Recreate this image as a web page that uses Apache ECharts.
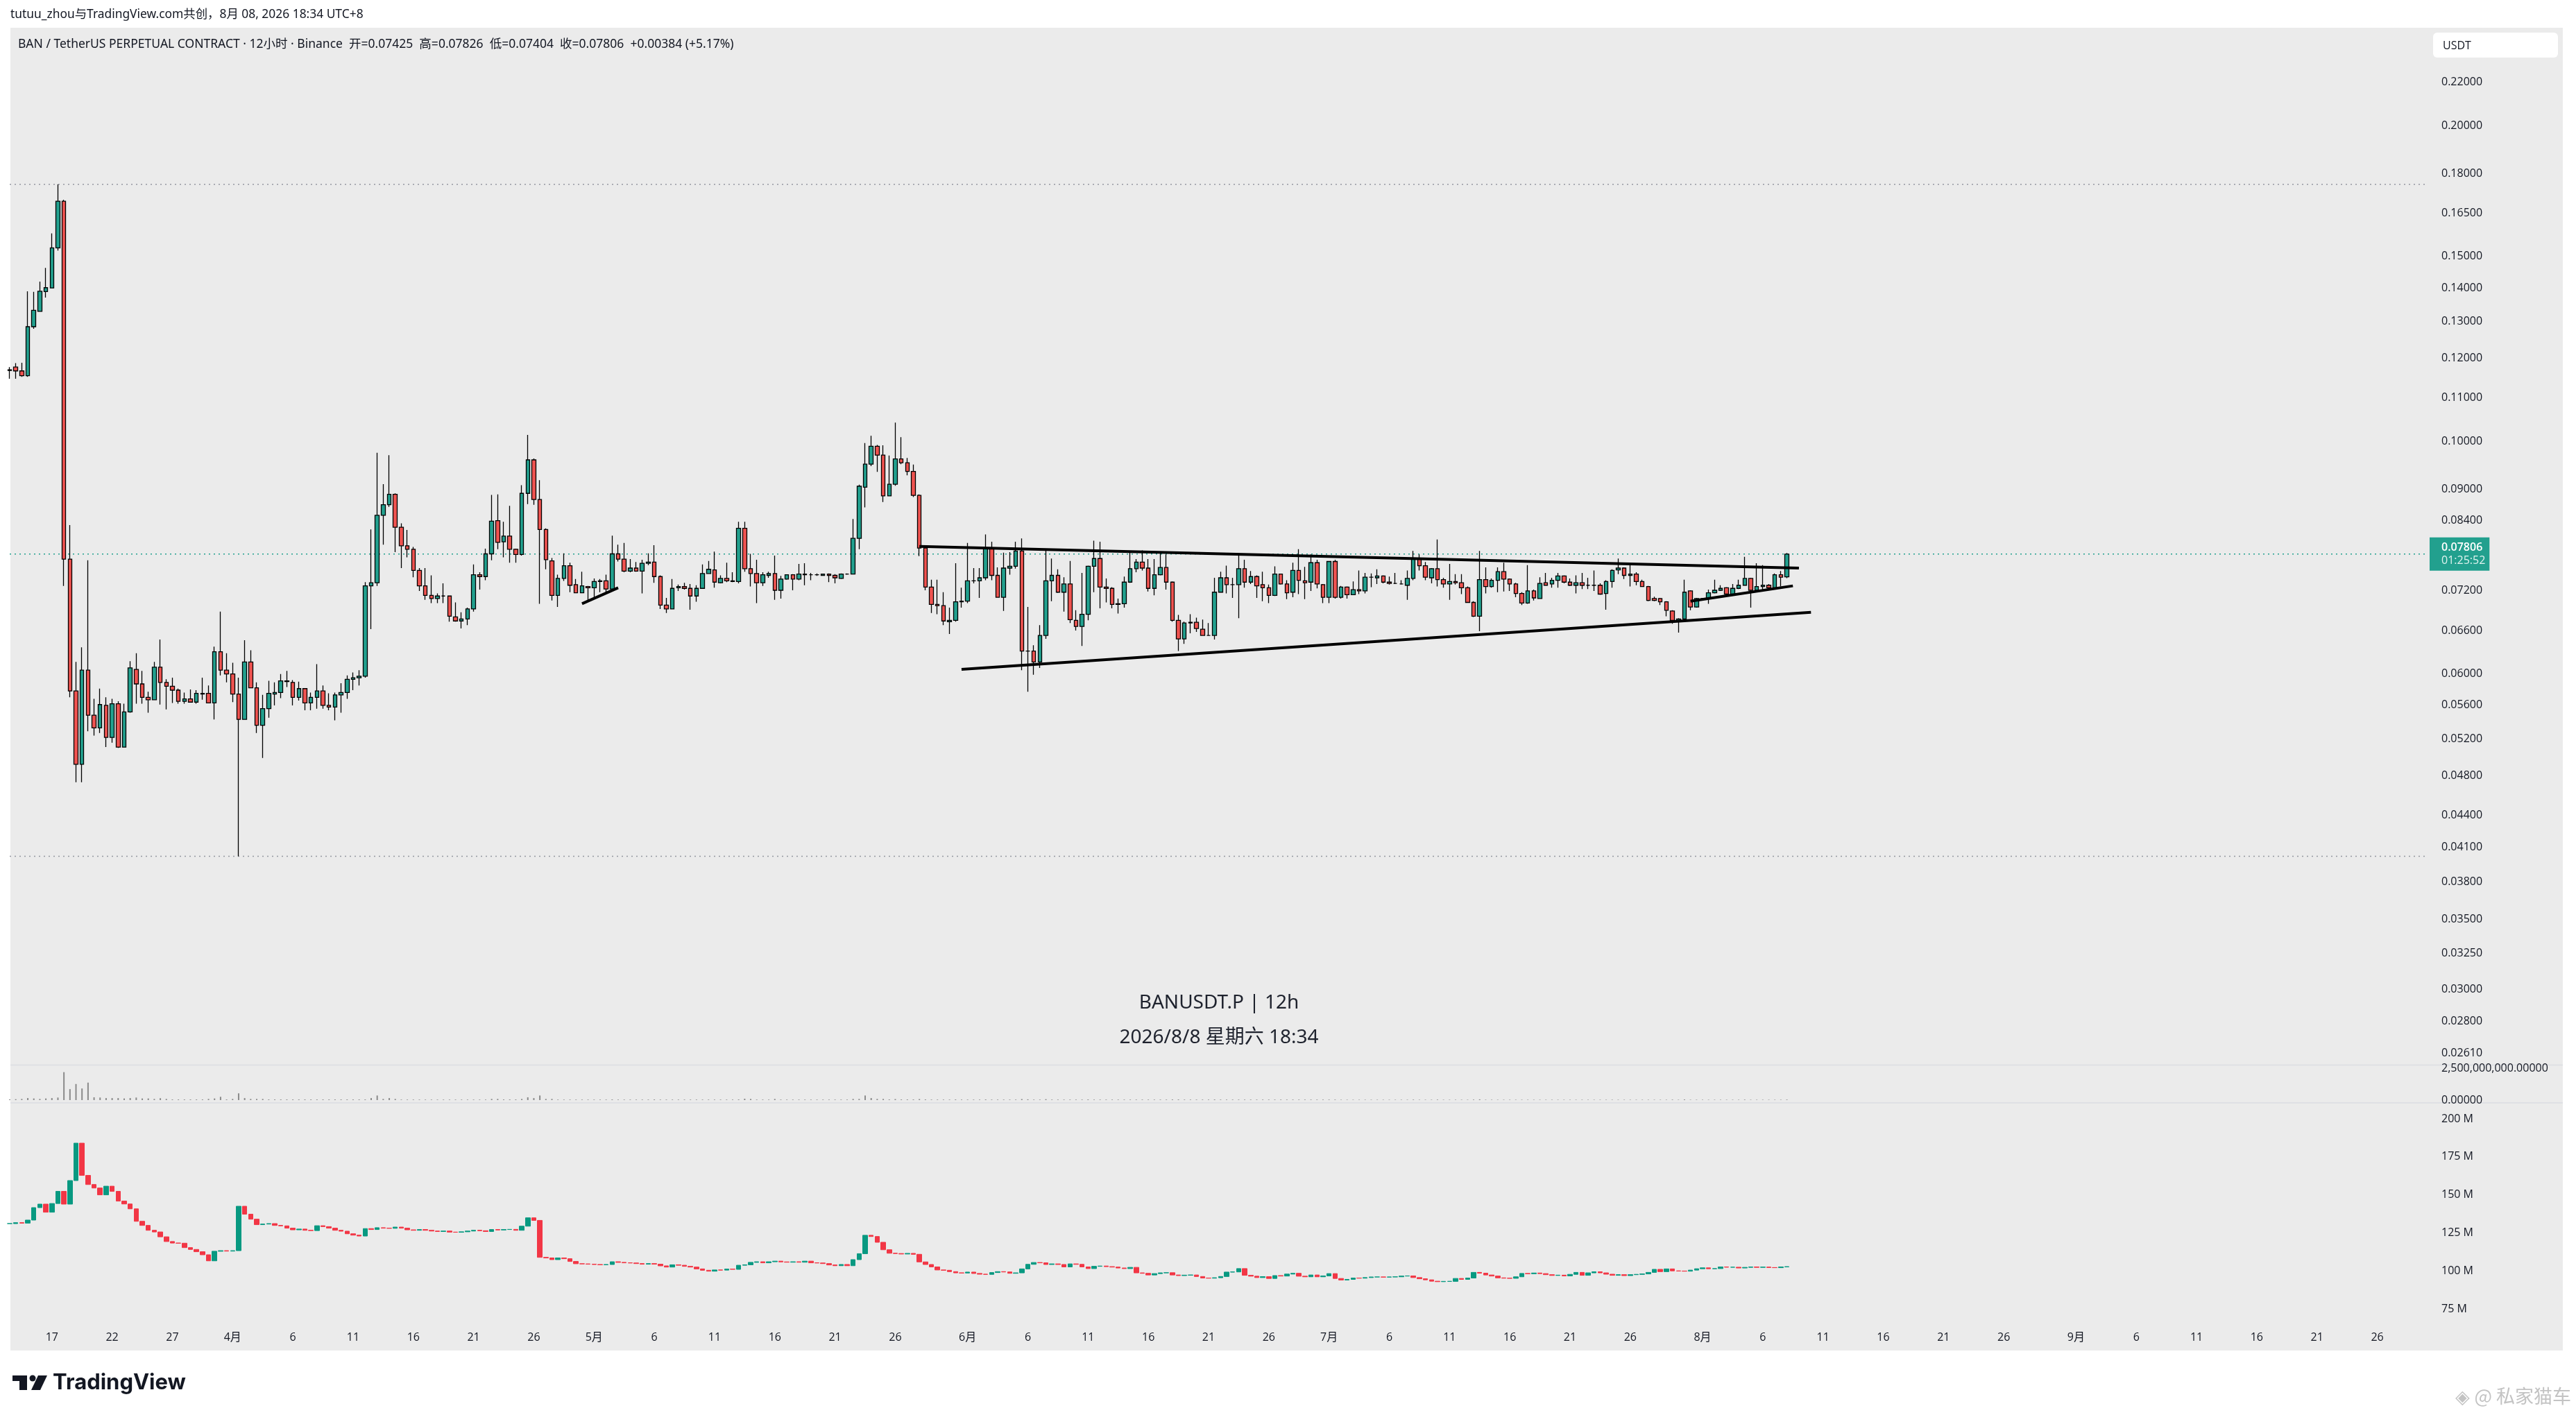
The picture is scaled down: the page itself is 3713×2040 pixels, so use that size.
<!DOCTYPE html>
<html><head><meta charset="utf-8">
<script src="https://cdn.jsdelivr.net/npm/echarts@6/dist/echarts.min.js"></script>
<style>html,body{margin:0;padding:0;background:#fff;}#c{width:3713px;height:2040px;}</style>
</head><body><div id="c"></div><script>
// ---------- DATA ----------
// 12h candles starting 2026-03-13 20:00 (UTC+8), rows: [open, high, low, close]
const priceOHLC = [
[0.1168,0.1177,0.1147,0.1170],[0.1177,0.1187,0.1147,0.1167],[0.1167,0.1188,0.1152,0.1155],[0.1155,0.1390,0.1152,0.1286],[0.1286,0.1388,0.1280,0.1333],
[0.1330,0.1420,0.1330,0.1390],[0.1389,0.1463,0.1371,0.1401],[0.1400,0.1578,0.1400,0.1529],[0.1529,0.1758,0.1520,0.1694],[0.1694,0.1699,0.0728,0.0772],
[0.0772,0.0832,0.0570,0.0578],[0.0578,0.0616,0.0473,0.0492],[0.0492,0.0636,0.0473,0.0605],[0.0605,0.0770,0.0529,0.0548],[0.0548,0.0568,0.0524,0.0533],
[0.0533,0.0581,0.0527,0.0561],[0.0560,0.0570,0.0511,0.0522],[0.0522,0.0568,0.0516,0.0562],[0.0562,0.0565,0.0510,0.0511],[0.0511,0.0562,0.0511,0.0552],
[0.0552,0.0617,0.0551,0.0608],[0.0606,0.0628,0.0562,0.0587],[0.0587,0.0604,0.0562,0.0570],[0.0570,0.0577,0.0551,0.0567],[0.0567,0.0616,0.0567,0.0609],
[0.0609,0.0647,0.0561,0.0589],[0.0589,0.0593,0.0555,0.0584],[0.0584,0.0595,0.0563,0.0579],[0.0579,0.0581,0.0562,0.0565],[0.0565,0.0576,0.0562,0.0568],
[0.0568,0.0580,0.0564,0.0564],[0.0564,0.0579,0.0562,0.0575],[0.0575,0.0595,0.0567,0.0574],[0.0575,0.0585,0.0563,0.0563],[0.0563,0.0637,0.0543,0.0630],
[0.0630,0.0688,0.0598,0.0605],[0.0605,0.0628,0.0589,0.0600],[0.0600,0.0615,0.0564,0.0574],[0.0574,0.0595,0.0402,0.0543],[0.0543,0.0646,0.0543,0.0616],
[0.0616,0.0632,0.0582,0.0582],[0.0582,0.0589,0.0527,0.0536],[0.0536,0.0573,0.0499,0.0556],[0.0556,0.0591,0.0545,0.0575],[0.0574,0.0589,0.0560,0.0576],
[0.0576,0.0600,0.0569,0.0591],[0.0591,0.0604,0.0583,0.0590],[0.0589,0.0592,0.0560,0.0570],[0.0570,0.0590,0.0566,0.0581],[0.0581,0.0581,0.0554,0.0563],
[0.0563,0.0576,0.0554,0.0570],[0.0570,0.0613,0.0556,0.0578],[0.0578,0.0585,0.0556,0.0560],[0.0560,0.0575,0.0554,0.0558],[0.0558,0.0576,0.0542,0.0573],
[0.0573,0.0588,0.0551,0.0576],[0.0576,0.0598,0.0568,0.0593],[0.0593,0.0602,0.0579,0.0595],[0.0595,0.0605,0.0585,0.0597],[0.0597,0.0734,0.0595,0.0728],
[0.0728,0.0824,0.0662,0.0733],[0.0733,0.0975,0.0728,0.0850],[0.0850,0.0910,0.0797,0.0870],[0.0870,0.0970,0.0866,0.0890],[0.0890,0.0892,0.0784,0.0828],
[0.0828,0.0835,0.0757,0.0795],[0.0795,0.0823,0.0775,0.0789],[0.0789,0.0793,0.0742,0.0753],[0.0753,0.0757,0.0720,0.0728],[0.0728,0.0757,0.0706,0.0713],
[0.0713,0.0745,0.0701,0.0708],[0.0708,0.0716,0.0701,0.0712],[0.0712,0.0732,0.0701,0.0712],[0.0712,0.0712,0.0673,0.0681],[0.0680,0.0702,0.0673,0.0674],
[0.0674,0.0687,0.0663,0.0677],[0.0677,0.0694,0.0668,0.0692],[0.0692,0.0763,0.0688,0.0746],[0.0746,0.0750,0.0722,0.0743],[0.0743,0.0790,0.0737,0.0781],
[0.0781,0.0889,0.0770,0.0839],[0.0840,0.0890,0.0789,0.0801],[0.0802,0.0838,0.0775,0.0812],[0.0812,0.0868,0.0766,0.0789],[0.0789,0.0790,0.0766,0.0780],
[0.0780,0.0908,0.0778,0.0892],[0.0892,0.1014,0.0871,0.0960],[0.0960,0.0963,0.0870,0.0880],[0.0880,0.0918,0.0700,0.0824],[0.0824,0.0826,0.0755,0.0771],
[0.0769,0.0774,0.0705,0.0713],[0.0713,0.0746,0.0695,0.0740],[0.0740,0.0782,0.0736,0.0761],[0.0761,0.0766,0.0718,0.0729],[0.0730,0.0739,0.0717,0.0717],
[0.0717,0.0751,0.0717,0.0728],[0.0727,0.0728,0.0705,0.0725],[0.0725,0.0740,0.0709,0.0735],[0.0735,0.0739,0.0718,0.0736],[0.0736,0.0746,0.0718,0.0723],
[0.0723,0.0813,0.0720,0.0781],[0.0781,0.0797,0.0768,0.0772],[0.0772,0.0800,0.0750,0.0752],[0.0752,0.0772,0.0750,0.0757],[0.0757,0.0767,0.0751,0.0752],
[0.0752,0.0771,0.0716,0.0765],[0.0765,0.0782,0.0762,0.0767],[0.0767,0.0796,0.0733,0.0743],[0.0743,0.0745,0.0692,0.0698],[0.0698,0.0709,0.0686,0.0692],
[0.0692,0.0739,0.0692,0.0724],[0.0725,0.0730,0.0720,0.0727],[0.0727,0.0733,0.0722,0.0724],[0.0724,0.0731,0.0691,0.0712],[0.0712,0.0729,0.0703,0.0724],
[0.0724,0.0763,0.0724,0.0748],[0.0748,0.0769,0.0748,0.0755],[0.0754,0.0785,0.0725,0.0734],[0.0733,0.0745,0.0732,0.0740],[0.0740,0.0766,0.0734,0.0736],
[0.0736,0.0750,0.0734,0.0735],[0.0735,0.0838,0.0732,0.0826],[0.0826,0.0838,0.0751,0.0756],[0.0756,0.0781,0.0727,0.0748],[0.0748,0.0771,0.0701,0.0733],
[0.0733,0.0750,0.0728,0.0746],[0.0745,0.0751,0.0741,0.0748],[0.0748,0.0778,0.0706,0.0721],[0.0721,0.0744,0.0708,0.0739],[0.0739,0.0746,0.0738,0.0746],
[0.0746,0.0747,0.0721,0.0739],[0.0739,0.0764,0.0737,0.0747],[0.0747,0.0765,0.0729,0.0746],[0.0746,0.0749,0.0737,0.0746],[0.0746,0.0748,0.0744,0.0746],
[0.0745,0.0747,0.0744,0.0747],[0.0747,0.0748,0.0734,0.0745],[0.0745,0.0747,0.0732,0.0741],[0.0740,0.0748,0.0739,0.0747],[0.0747,0.0748,0.0746,0.0747],
[0.0747,0.0843,0.0747,0.0808],[0.0808,0.0909,0.0789,0.0906],[0.0904,0.0996,0.0865,0.0951],[0.0951,0.1012,0.0947,0.0989],[0.0989,0.0992,0.0935,0.0970],
[0.0970,0.0991,0.0875,0.0887],[0.0887,0.0969,0.0887,0.0910],[0.0910,0.1042,0.0907,0.0962],[0.0962,0.1009,0.0951,0.0954],[0.0954,0.0964,0.0928,0.0936],
[0.0936,0.0950,0.0885,0.0888],[0.0888,0.0890,0.0777,0.0791],[0.0791,0.0792,0.0721,0.0726],[0.0726,0.0738,0.0686,0.0699],[0.0699,0.0738,0.0684,0.0697],
[0.0697,0.0718,0.0668,0.0674],[0.0673,0.0694,0.0655,0.0675],[0.0675,0.0765,0.0673,0.0703],[0.0703,0.0725,0.0694,0.0704],[0.0704,0.0800,0.0701,0.0736],
[0.0736,0.0757,0.0732,0.0736],[0.0736,0.0757,0.0709,0.0741],[0.0741,0.0815,0.0737,0.0791],[0.0791,0.0802,0.0737,0.0745],[0.0745,0.0758,0.0710,0.0710],
[0.0710,0.0783,0.0689,0.0757],[0.0757,0.0784,0.0746,0.0760],[0.0760,0.0802,0.0756,0.0786],[0.0786,0.0808,0.0605,0.0631],[0.0631,0.0695,0.0577,0.0631],
[0.0631,0.0639,0.0599,0.0616],[0.0616,0.0668,0.0608,0.0653],[0.0653,0.0787,0.0648,0.0736],[0.0736,0.0773,0.0704,0.0745],[0.0745,0.0755,0.0717,0.0718],
[0.0718,0.0742,0.0688,0.0731],[0.0731,0.0769,0.0671,0.0676],[0.0675,0.0690,0.0660,0.0666],[0.0666,0.0749,0.0638,0.0684],[0.0684,0.0761,0.0675,0.0760],
[0.0760,0.0804,0.0718,0.0773],[0.0773,0.0802,0.0693,0.0726],[0.0726,0.0740,0.0702,0.0724],[0.0724,0.0726,0.0693,0.0699],[0.0699,0.0708,0.0685,0.0700],
[0.0700,0.0743,0.0694,0.0734],[0.0734,0.0783,0.0733,0.0756],[0.0756,0.0772,0.0750,0.0767],[0.0767,0.0787,0.0753,0.0757],[0.0757,0.0772,0.0719,0.0724],
[0.0724,0.0772,0.0713,0.0746],[0.0746,0.0782,0.0745,0.0758],[0.0758,0.0780,0.0722,0.0734],[0.0734,0.0735,0.0673,0.0675],[0.0675,0.0683,0.0631,0.0648],
[0.0648,0.0673,0.0641,0.0671],[0.0671,0.0684,0.0656,0.0672],[0.0672,0.0679,0.0658,0.0663],[0.0662,0.0676,0.0653,0.0653],[0.0653,0.0671,0.0653,0.0653],
[0.0653,0.0741,0.0647,0.0718],[0.0718,0.0751,0.0718,0.0741],[0.0741,0.0761,0.0716,0.0730],[0.0730,0.0741,0.0709,0.0730],[0.0730,0.0779,0.0678,0.0756],
[0.0756,0.0771,0.0725,0.0734],[0.0734,0.0752,0.0731,0.0743],[0.0743,0.0745,0.0709,0.0728],[0.0730,0.0751,0.0704,0.0725],[0.0725,0.0730,0.0701,0.0713],
[0.0713,0.0760,0.0712,0.0747],[0.0747,0.0747,0.0730,0.0731],[0.0731,0.0737,0.0707,0.0717],[0.0718,0.0766,0.0710,0.0753],[0.0753,0.0789,0.0715,0.0737],
[0.0736,0.0759,0.0707,0.0733],[0.0734,0.0780,0.0720,0.0766],[0.0766,0.0771,0.0724,0.0731],[0.0730,0.0731,0.0701,0.0710],[0.0710,0.0769,0.0701,0.0768],
[0.0768,0.0771,0.0708,0.0710],[0.0710,0.0728,0.0708,0.0726],[0.0726,0.0727,0.0708,0.0714],[0.0714,0.0735,0.0714,0.0722],[0.0722,0.0753,0.0715,0.0720],
[0.0720,0.0749,0.0716,0.0742],[0.0742,0.0748,0.0726,0.0742],[0.0741,0.0755,0.0731,0.0744],[0.0744,0.0745,0.0732,0.0734],[0.0734,0.0743,0.0730,0.0732],
[0.0732,0.0749,0.0731,0.0732],[0.0731,0.0737,0.0730,0.0731],[0.0729,0.0753,0.0706,0.0740],[0.0740,0.0786,0.0737,0.0772],[0.0772,0.0780,0.0753,0.0761],
[0.0761,0.0767,0.0737,0.0742],[0.0741,0.0757,0.0732,0.0756],[0.0756,0.0806,0.0727,0.0738],[0.0738,0.0741,0.0725,0.0731],[0.0731,0.0764,0.0706,0.0735],
[0.0735,0.0747,0.0730,0.0733],[0.0733,0.0747,0.0715,0.0725],[0.0725,0.0727,0.0702,0.0702],[0.0702,0.0704,0.0680,0.0681],[0.0681,0.0786,0.0659,0.0738],
[0.0738,0.0758,0.0716,0.0727],[0.0727,0.0740,0.0725,0.0737],[0.0737,0.0758,0.0718,0.0751],[0.0751,0.0766,0.0719,0.0739],[0.0739,0.0740,0.0720,0.0731],
[0.0731,0.0733,0.0710,0.0716],[0.0716,0.0718,0.0698,0.0701],[0.0701,0.0762,0.0700,0.0720],[0.0720,0.0722,0.0705,0.0709],[0.0708,0.0742,0.0708,0.0732],
[0.0733,0.0749,0.0729,0.0729],[0.0731,0.0741,0.0725,0.0737],[0.0737,0.0749,0.0725,0.0744],[0.0744,0.0745,0.0732,0.0734],[0.0734,0.0740,0.0728,0.0729],
[0.0729,0.0745,0.0716,0.0733],[0.0733,0.0749,0.0723,0.0729],[0.0729,0.0741,0.0723,0.0729],[0.0729,0.0753,0.0720,0.0729],[0.0729,0.0732,0.0714,0.0715],
[0.0716,0.0737,0.0691,0.0735],[0.0735,0.0755,0.0725,0.0753],[0.0754,0.0773,0.0747,0.0757],[0.0757,0.0758,0.0739,0.0745],[0.0745,0.0762,0.0727,0.0747],
[0.0747,0.0750,0.0729,0.0735],[0.0735,0.0738,0.0727,0.0727],[0.0727,0.0728,0.0704,0.0705],[0.0708,0.0711,0.0704,0.0705],[0.0708,0.0709,0.0698,0.0703],
[0.0703,0.0704,0.0681,0.0690],[0.0689,0.0690,0.0670,0.0675],[0.0675,0.0678,0.0657,0.0677],[0.0677,0.0738,0.0676,0.0718],[0.0720,0.0721,0.0690,0.0695],
[0.0695,0.0709,0.0694,0.0708],[0.0708,0.0709,0.0707,0.0708],[0.0708,0.0722,0.0700,0.0717],[0.0717,0.0738,0.0716,0.0721],[0.0721,0.0729,0.0720,0.0724],
[0.0725,0.0726,0.0715,0.0715],[0.0715,0.0731,0.0714,0.0724],[0.0724,0.0738,0.0723,0.0729],[0.0729,0.0776,0.0729,0.0740],[0.0740,0.0741,0.0694,0.0721],
[0.0721,0.0765,0.0720,0.0727],[0.0727,0.0762,0.0722,0.0729],[0.0729,0.0731,0.0724,0.0725],[0.0725,0.0748,0.0724,0.0746],[0.0746,0.0752,0.0727,0.0742],
[0.07425,0.07826,0.07404,0.07806]
];
// volume, billions
const volumeB = [
0.05,0.07,0.09,0.16,0.13,0.09,0.13,0.16,0.20,2.19,
0.86,1.26,0.91,1.37,0.22,0.20,0.16,0.16,0.16,0.13,
0.16,0.20,0.13,0.13,0.09,0.15,0.09,0.05,0.05,0.05,
0.05,0.05,0.05,0.09,0.13,0.26,0.05,0.09,0.53,0.16,
0.09,0.09,0.09,0.05,0.05,0.05,0.05,0.05,0.05,0.05,
0.05,0.05,0.05,0.05,0.05,0.05,0.05,0.05,0.05,0.05,
0.16,0.36,0.09,0.16,0.09,0.04,0.04,0.04,0.04,0.04,
0.04,0.04,0.04,0.04,0.04,0.04,0.04,0.04,0.04,0.04,
0.09,0.09,0.05,0.05,0.05,0.09,0.22,0.16,0.36,0.09,
0.09,0.04,0.04,0.04,0.04,0.04,0.04,0.04,0.04,0.04,
0.05,0.04,0.04,0.04,0.04,0.04,0.04,0.05,0.04,0.04,
0.04,0.04,0.04,0.04,0.04,0.04,0.04,0.04,0.04,0.04,
0.04,0.05,0.11,0.09,0.04,0.04,0.04,0.09,0.04,0.04,
0.04,0.04,0.04,0.04,0.04,0.04,0.04,0.04,0.04,0.04,
0.09,0.09,0.36,0.16,0.09,0.09,0.05,0.08,0.05,0.05,
0.05,0.08,0.05,0.04,0.04,0.04,0.04,0.05,0.04,0.04,
0.04,0.04,0.05,0.04,0.04,0.04,0.04,0.04,0.08,0.06,
0.04,0.04,0.07,0.04,0.04,0.04,0.04,0.04,0.04,0.05,
0.04,0.04,0.04,0.04,0.04,0.04,0.04,0.04,0.04,0.04,
0.04,0.04,0.04,0.05,0.05,0.04,0.04,0.04,0.04,0.04,
0.05,0.04,0.04,0.04,0.04,0.04,0.04,0.04,0.04,0.04,
0.04,0.04,0.04,0.04,0.04,0.04,0.04,0.04,0.04,0.04,
0.04,0.03,0.03,0.03,0.03,0.03,0.03,0.03,0.03,0.03,
0.03,0.03,0.03,0.04,0.03,0.03,0.03,0.04,0.03,0.03,
0.03,0.03,0.03,0.04,0.06,0.03,0.03,0.03,0.03,0.03,
0.03,0.03,0.03,0.03,0.03,0.03,0.03,0.03,0.03,0.03,
0.03,0.03,0.03,0.03,0.03,0.03,0.03,0.03,0.03,0.03,
0.03,0.03,0.03,0.03,0.03,0.03,0.04,0.03,0.05,0.03,
0.03,0.03,0.03,0.03,0.03,0.03,0.03,0.03,0.04,0.03,
0.03,0.03,0.03,0.03,0.03,0.04
];
// lower pane (open interest style candles), closes in millions
const oiClose = [
131.1,131.7,131.4,133.4,141.6,143.9,138.6,144.3,152.3,143.9,
159.4,184.0,162.8,156.8,154.5,150.0,155.7,152.3,145.9,144.0,
140.8,132.6,129.9,126.7,125.6,122.4,119.3,118.3,118.2,115.3,
114.1,112.6,110.6,106.6,112.9,113.3,113.0,113.3,142.5,137.3,
134.0,130.4,130.8,131.1,129.9,129.6,128.1,127.0,127.5,126.7,
126.5,129.7,129.1,128.1,126.7,126.1,124.4,123.5,122.9,127.8,
127.2,128.4,128.1,128.0,128.8,128.1,127.0,126.7,127.2,126.7,
126.2,125.9,126.2,125.5,125.4,125.7,126.2,126.7,126.4,125.9,
127.2,126.9,127.2,127.3,126.7,129.4,134.9,133.2,108.9,108.5,
107.4,108.5,108.0,106.2,104.7,104.6,104.4,104.2,104.0,104.2,
106.0,105.6,105.3,105.2,104.8,104.4,104.8,104.4,103.3,102.5,
104.0,103.7,103.0,102.5,101.3,100.4,99.8,100.6,100.5,101.2,
101.0,103.7,104.0,105.6,106.0,105.3,106.0,106.4,105.9,105.7,
106.0,105.7,106.4,105.3,105.2,104.8,103.9,103.4,104.2,103.4,
107.4,111.3,123.4,122.6,118.8,113.9,111.6,111.4,111.1,111.5,
110.9,105.9,104.2,102.6,100.6,100.4,99.5,98.7,98.6,99.2,
98.3,97.8,97.7,98.9,99.5,99.3,98.4,98.7,101.3,104.3,
105.5,105.3,104.2,104.6,104.2,102.6,104.6,104.3,102.6,101.5,
103.0,103.2,102.8,102.5,101.9,101.5,102.3,98.7,98.4,97.3,
98.2,98.7,98.8,97.3,96.9,97.2,97.3,96.3,95.3,95.2,
95.5,96.3,99.2,99.3,101.5,97.1,96.5,95.6,96.2,95.0,
96.9,96.6,97.9,98.4,96.5,96.1,97.3,96.1,96.7,98.2,
95.0,94.0,94.4,95.3,95.2,95.6,96.0,96.0,95.9,96.0,
96.1,96.6,96.7,95.6,94.8,94.1,93.2,92.9,93.1,93.1,
95.0,94.4,95.3,99.0,98.5,97.3,96.6,95.4,95.2,95.1,
96.1,98.3,98.1,98.6,98.2,97.5,97.0,97.2,96.7,97.7,
99.0,97.1,98.7,99.4,98.7,97.8,97.1,97.5,96.9,97.5,
97.7,98.0,99.0,101.0,99.5,101.3,100.0,99.9,99.8,100.5,
101.4,102.0,101.4,101.5,102.6,102.4,102.4,101.9,102.3,102.6,
102.3,102.5,102.2,102.1,102.6,102.8
];
// hand-drawn trend lines: [[categoryIndex, price], [categoryIndex, price]]
const trendLines = [
  [[151, 0.0794], [297, 0.0757]],
  [[158, 0.0606], [299, 0.0687]],
  [[279, 0.0704], [296, 0.0728]],
  [[95, 0.0700], [101, 0.0725]]
];
const priceTicks = [0.22,0.20,0.18,0.165,0.15,0.14,0.13,0.12,0.11,0.10,0.09,0.084,0.072,0.066,0.06,0.056,0.052,0.048,0.044,0.041,0.038,0.035,0.0325,0.03,0.028,0.0261];
const volTicks = [0, 2.5];
const volTickLabels = ['0.00000', '2,500,000,000.00000'];
const oiTicks = [75, 100, 125, 150, 175, 200];
const xTickDates = ['2026-03-17','2026-03-22','2026-03-27',
 '2026-04-01','2026-04-06','2026-04-11','2026-04-16','2026-04-21','2026-04-26',
 '2026-05-01','2026-05-06','2026-05-11','2026-05-16','2026-05-21','2026-05-26',
 '2026-06-01','2026-06-06','2026-06-11','2026-06-16','2026-06-21','2026-06-26',
 '2026-07-01','2026-07-06','2026-07-11','2026-07-16','2026-07-21','2026-07-26',
 '2026-08-01','2026-08-06','2026-08-11','2026-08-16','2026-08-21','2026-08-26',
 '2026-09-01','2026-09-06','2026-09-11','2026-09-16','2026-09-21','2026-09-26'];
const xTickTexts = ['17','22','27',
 '4月','6','11','16','21','26','5月','6','11','16','21','26',
 '6月','6','11','16','21','26','7月','6','11','16','21','26',
 '8月','6','11','16','21','26','9月','6','11','16','21','26'];
const countdown = '01:25:52';
const headerText = 'tutuu_zhou与TradingView.com共创，8月 08, 2026 18:34 UTC+8';
const legendText = 'BAN / TetherUS PERPETUAL CONTRACT · 12小时 · Binance  开=0.07425  高=0.07826  低=0.07404  收=0.07806  +0.00384 (+5.17%)';
const watermark1 = 'BANUSDT.P | 12h';
const watermark2 = '2026/8/8 星期六 18:34';

// ---------- BUILD ----------
const N_CAT = 402;
const START = Date.UTC(2026, 2, 13, 12, 0, 0); // 20:00 UTC+8
const pad = n => (n < 10 ? '0' : '') + n;
const cats = [];
for (let i = 0; i < N_CAT; i++) {
  const d = new Date(START + i * 43200000 + 8 * 3600000);
  cats.push(d.getUTCFullYear() + '-' + pad(d.getUTCMonth() + 1) + '-' + pad(d.getUTCDate()) + ' ' + pad(d.getUTCHours()) + ':00');
}
const labelMap = {};
xTickDates.forEach((d, k) => { labelMap[d + ' 08:00'] = xTickTexts[k]; });

const candleData = priceOHLC.map(r => [r[0], r[3], r[2], r[1]]);
const hiMax = Math.max(...priceOHLC.map(r => r[1]));
const loMin = Math.min(...priceOHLC.map(r => r[2]));
const lastClose = priceOHLC[priceOHLC.length - 1][3];
const oiData = oiClose.map((c, i) => {
  const o = i === 0 ? c : oiClose[i - 1];
  return [o, c, Math.min(o, c), Math.max(o, c)];
});

const FONT = "'Open Sans','Noto Sans CJK SC',sans-serif";
const TXT = '#131722';
const GREEN = '#22a08e', RED = '#ef5350';

const chart = echarts.init(document.getElementById('c'), null, {width: 3713, height: 2040});
const gridL = 14, gridW = 3482;
const xAx = k => ({
  type: 'category', gridIndex: k, data: cats, boundaryGap: false,
  axisLine: {show: false}, axisTick: {show: false}, splitLine: {show: false},
  axisLabel: k === 2 ? {
    show: true, interval: (idx, val) => labelMap[val] !== undefined,
    formatter: val => labelMap[val] || '', color: TXT, fontSize: 16, fontFamily: FONT, margin: 10
  } : {show: false}
});
const yBase = {
  position: 'right', axisLine: {show: false}, axisTick: {show: false}, splitLine: {show: false}
};
const hLine = (v, color, extra) => Object.assign({
  type: 'line', xAxisIndex: 0, yAxisIndex: 0, data: [[0, v], [N_CAT - 1, v]], symbol: 'none', silent: true,
  lineStyle: {color: color, type: [2, 5], width: 1.5}, z: 1
}, extra || {});
const option = {
  animation: false,
  backgroundColor: '#ffffff',
  grid: [
    {left: gridL, top: 40, width: gridW, height: 1495},
    {left: gridL, top: 1536, width: gridW, height: 50},
    {left: gridL, top: 1591, width: gridW, height: 319}
  ],
  xAxis: [xAx(0), xAx(1), xAx(2)],
  yAxis: [
    Object.assign({type: 'log', gridIndex: 0, min: 0.025443, max: 0.2479,
      axisLabel: {customValues: priceTicks, formatter: v => v.toFixed(5), margin: 23, color: TXT, fontSize: 16, fontFamily: FONT}}, yBase),
    Object.assign({type: 'value', gridIndex: 1, min: 0, max: 2.717,
      axisLabel: {customValues: volTicks, formatter: v => volTickLabels[volTicks.indexOf(v)] || '', margin: 23, color: TXT, fontSize: 16, fontFamily: FONT}}, yBase),
    Object.assign({type: 'value', gridIndex: 2, min: 64.51, max: 210.04,
      axisLabel: {customValues: oiTicks, formatter: v => v + ' M', margin: 23, color: TXT, fontSize: 16, fontFamily: FONT}}, yBase)
  ],
  series: [
    hLine(hiMax, '#9598a1'),
    hLine(loMin, '#9598a1'),
    hLine(lastClose, GREEN, {
      endLabel: {show: true, distance: 6, backgroundColor: GREEN, padding: [5, 6, 5, 17],
        formatter: () => '{a|' + lastClose.toFixed(5) + '}\n{b|' + countdown + '}',
        rich: {a: {color: '#fff', fontSize: 16, fontFamily: FONT, lineHeight: 19, fontWeight: 600},
               b: {color: '#dff3ef', fontSize: 16, fontFamily: FONT, lineHeight: 19}}}
    }),
    {
      type: 'candlestick', name: 'BANUSDT.P', xAxisIndex: 0, yAxisIndex: 0, data: candleData, barWidth: 6, z: 3,
      itemStyle: {color: GREEN, color0: RED, borderColor: '#000', borderColor0: '#000', borderColorDoji: '#000', borderWidth: 1.3}
    },
    ...trendLines.map(seg => ({
      type: 'line', xAxisIndex: 0, yAxisIndex: 0, data: seg, symbol: 'none', silent: true,
      lineStyle: {color: '#000', width: 4}, z: 5
    })),
    {
      type: 'bar', xAxisIndex: 1, yAxisIndex: 1, data: volumeB, barWidth: 2,
      itemStyle: {color: '#8a8a8a'}, silent: true
    },
    {
      type: 'candlestick', xAxisIndex: 2, yAxisIndex: 2, data: oiData, barWidth: 7,
      itemStyle: {color: '#089981', color0: '#f23645', borderColor: '#089981', borderColor0: '#f23645', borderWidth: 1}
    }
  ],
  graphic: [
    {type: 'rect', z: -100, silent: true, shape: {x: 15, y: 40, width: 3679, height: 1907}, style: {fill: '#ebebeb'}},
    {type: 'line', z: -50, silent: true, shape: {x1: 15, y1: 1535.5, x2: 3694, y2: 1535.5}, style: {stroke: '#dfe0e4', lineWidth: 2}},
    {type: 'line', z: -50, silent: true, shape: {x1: 15, y1: 1590, x2: 3694, y2: 1590}, style: {stroke: '#dfe0e4', lineWidth: 2}},
    {type: 'rect', silent: true, shape: {x: 3507, y: 47, width: 180, height: 36, r: 6}, style: {fill: '#ffffff'}},
    {type: 'text', silent: true, x: 3521, y: 66, style: {text: 'USDT', fill: TXT, font: "16px 'Open Sans', sans-serif", verticalAlign: 'middle'}},
    {type: 'text', silent: true, x: 15, y: 21, style: {text: headerText, fill: TXT, font: "17.4px 'Noto Sans','Noto Sans CJK SC', sans-serif", verticalAlign: 'middle'}},
    {type: 'text', silent: true, x: 26, y: 64, style: {text: legendText, fill: TXT, font: "17.5px 'Noto Sans','Noto Sans CJK SC', sans-serif", verticalAlign: 'middle'}},
    {type: 'text', silent: true, x: 1757, y: 1446, style: {text: watermark1, fill: '#1e222d', font: "28px 'Noto Sans','Noto Sans CJK SC', sans-serif", align: 'center', verticalAlign: 'middle'}},
    {type: 'text', silent: true, x: 1757, y: 1496, style: {text: watermark2, fill: '#1e222d', font: "28px 'Noto Sans','Noto Sans CJK SC', sans-serif", align: 'center', verticalAlign: 'middle'}},
    // TradingView logo
    {type: 'rect', silent: true, shape: {x: 18, y: 1983, width: 21, height: 8}, style: {fill: '#131722'}},
    {type: 'rect', silent: true, shape: {x: 28, y: 1983, width: 11, height: 21}, style: {fill: '#131722'}},
    {type: 'circle', silent: true, shape: {cx: 47, cy: 1987, r: 4.5}, style: {fill: '#131722'}},
    {type: 'polygon', silent: true, shape: {points: [[55, 1983], [68, 1983], [58, 2004], [45, 2004]]}, style: {fill: '#131722'}},
    {type: 'text', silent: true, x: 76, y: 1994, style: {text: 'TradingView', fill: '#131722', font: "bold 31px 'Inter', 'Noto Sans', sans-serif", verticalAlign: 'middle'}},
    {type: 'text', silent: true, x: 3706, y: 2013, style: {text: '◈ @ 私家猫车', fill: '#c3c3c3', font: "27px 'Noto Sans CJK SC', sans-serif", align: 'right', verticalAlign: 'middle'}}
  ]
};
chart.setOption(option);
</script></body></html>
